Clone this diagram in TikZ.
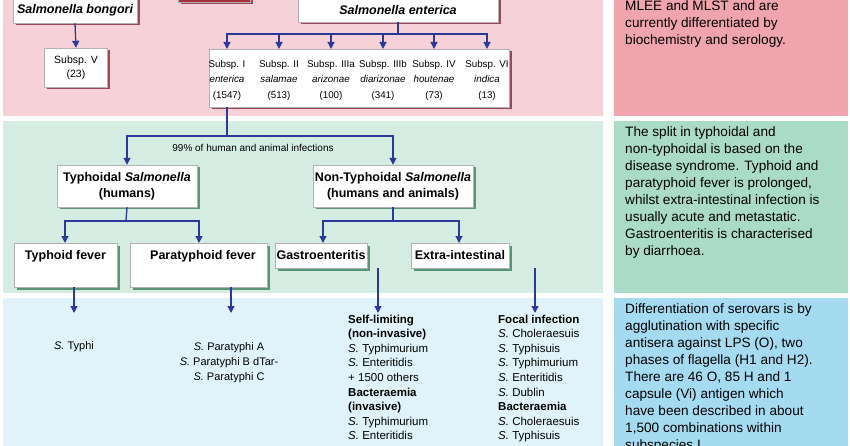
\documentclass[tikz,border=0pt]{standalone}
\usepackage{fontspec}
\setmainfont{Liberation Sans}
\usetikzlibrary{arrows.meta,shadows}
\definecolor{arr}{HTML}{2B3A98}
\definecolor{pinkL}{HTML}{F6D2D8}
\definecolor{pinkR}{HTML}{F0A4AE}
\definecolor{greenL}{HTML}{D5ECE2}
\definecolor{greenR}{HTML}{AADBC6}
\definecolor{blueL}{HTML}{E1F3FA}
\definecolor{blueR}{HTML}{A5DBF1}
\definecolor{shR}{HTML}{8E3A48}
\definecolor{shG}{HTML}{4E8A6A}
\tikzset{
  box/.style={draw=gray!60, fill=white, inner sep=0pt, align=center},
  shr/.style={drop shadow={shadow xshift=2.5pt, shadow yshift=-2.5pt, fill=shR, opacity=.9}},
  shg/.style={drop shadow={shadow xshift=2.5pt, shadow yshift=-2.5pt, fill=shG, opacity=.9}},
  conn/.style={draw=arr, line width=1.3pt},
  arrow/.style={conn, -{Triangle[length=7pt,width=7pt]}},
  small/.style={font=\fontsize{9.8}{15.5}\selectfont},
  side/.style={anchor=north west, align=left, inner sep=0pt,
               font=\fontsize{13.6}{17}\selectfont},
  lst/.style={anchor=north west, align=left, inner sep=0pt, font=\fontsize{11.5}{14.6}\selectfont},
  hd/.style={font=\fontsize{12.5}{16}\selectfont\bfseries}
}
\begin{document}
\begin{tikzpicture}[x=1pt,y=-1pt]
\useasboundingbox (0,0) rectangle (850,446);
\clip (0,0) rectangle (850,446);
% bands
\fill[pinkL] (3,-5) rectangle (603,116);
\fill[pinkR] (614,-5) rectangle (848,116);
\fill[greenL] (3,121) rectangle (603,293);
\fill[greenR] (614,121) rectangle (848,293);
\fill[blueL] (3,298) rectangle (603,450);
\fill[blueR] (614,298) rectangle (848,450);
% top partial box
\node[box, fill=shR!80!red, shr, minimum width=72pt, minimum height=20pt] (top) at (214,-8) {};
% top level
\node[box, shr, minimum width=124pt, minimum height=38pt] (bon) at (75,4) {};
\node[font=\fontsize{12.5}{14}\selectfont\bfseries\itshape] (bont) at (75,10) {Salmonella bongori};
\node[box, shr, minimum width=200pt, minimum height=38pt] (ent) at (398,3) {};
\node[font=\fontsize{12.5}{14}\selectfont\bfseries\itshape] (entt) at (398,10) {Salmonella enterica};
\node[box, shr, minimum width=63pt, minimum height=39pt, font=\fontsize{10.5}{14}\selectfont] (sv) at (76,67.5) {Subsp. V\\(23)};
\node[box, shr, minimum width=300pt, minimum height=58pt] (sb) at (359,78) {};
\foreach \n/\x/\a/\b/\c in {s1/227/Subsp. I/enterica/1547, s2/279/Subsp. II/salamae/513,
  s3/331/Subsp. IIIa/arizonae/100, s4/383/Subsp. IIIb/diarizonae/341,
  s5/434/Subsp. IV/houtenae/73, s6/487/Subsp. VI/indica/13}
  \node[small, align=center, inner sep=0pt] (\n) at (\x,80) {\a\\\textit{\b}\\(\c)};
\draw[arrow] (bon.south) -- (sv.north);
\coordinate (ej) at (398,34);
\draw[conn] (ent.south) -- (ej);
\foreach \x in {227,279,331,383,434,487}
  \draw[arrow] (ej) -| (\x,49);
\draw[conn] (ej) -- (227,34) -- (487,34);
% green level
\node[box, shg, minimum width=140pt, minimum height=42pt, hd] (typ) at (127,186) {Typhoidal \textit{Salmonella}\\(humans)};
\node[box, shg, minimum width=160pt, minimum height=42pt, hd] (non) at (393,186) {Non-Typhoidal \textit{Salmonella}\\(humans and animals)};
\coordinate (gj) at (227,136);
\draw[conn] (227,107) -- (gj);
\draw[arrow] (gj) -| (typ.north);
\draw[arrow] (gj) -| (non.north);
\node[font=\fontsize{10}{12}\selectfont] (pct) at (253,148) {99\% of human and animal infections};
\node[box, shg, minimum width=103pt, minimum height=44pt] (tf) at (65.5,265) {};
\node[hd] (tft) at (65.5,256) {Typhoid fever};
\node[box, shg, minimum width=137pt, minimum height=44pt] (pf) at (198.5,265) {};
\node[hd] (pft) at (203,256) {Paratyphoid fever};
\node[box, shg, minimum width=92pt, minimum height=25pt, hd] (ga) at (321,255.5) {Gastroenteritis};
\node[box, shg, minimum width=98pt, minimum height=25pt, hd] (ex) at (460,255.5) {Extra-intestinal};
\coordinate (tj) at (126,221);
\draw[conn] (typ.south) -- (tj);
\draw[arrow] (tj) -| (65,243);
\draw[arrow] (tj) -| (199,243);
\coordinate (nj) at (393,221);
\draw[conn] (non.south) -- (nj);
\draw[arrow] (nj) -| (323,243);
\draw[arrow] (nj) -| (459,243);
% blue level
\coordinate (a1) at (74,313); \coordinate (a2) at (231,313);
\coordinate (a3) at (378,313); \coordinate (a4) at (535,313);
\draw[arrow] (tf.south -| a1) -- (a1);
\draw[arrow] (pf.south -| a2) -- (a2);
\draw[arrow] (ga.south -| a3) -- (a3);
\draw[arrow] (ex.south -| a4) -- (a4);
\node[font=\fontsize{11}{15}\selectfont] (ty) at (74,347) {\textit{S.} Typhi};
\node[font=\fontsize{11}{15}\selectfont, align=center, anchor=north] (pa) at (229,339) {\textit{S.} Paratyphi A\\\textit{S.} Paratyphi B dTar-\\\textit{S.} Paratyphi C};
\node[lst] (gl) at (348,314.5) {\textbf{Self-limiting}\\\textbf{(non-invasive)}\\\textit{S.} Typhimurium\\\textit{S.} Enteritidis\\+ 1500 others\\\textbf{Bacteraemia}\\\textbf{(invasive)}\\\textit{S.} Typhimurium\\\textit{S.} Enteritidis};
\node[lst] (el) at (498,314.5) {\textbf{Focal infection}\\\textit{S.} Choleraesuis\\\textit{S.} Typhisuis\\\textit{S.} Typhimurium\\\textit{S.} Enteritidis\\\textit{S.} Dublin\\\textbf{Bacteraemia}\\\textit{S.} Choleraesuis\\\textit{S.} Typhisuis};
% side texts
\node[side] (t1) at (625,0) {MLEE and MLST and are\\currently differentiated by\\biochemistry and serology.};
\node[side] (t2) at (625,126) {The split in typhoidal and\\non-typhoidal is based on the\\disease syndrome. Typhoid and\\paratyphoid fever is prolonged,\\whilst extra-intestinal infection is\\usually acute and metastatic.\\Gastroenteritis is characterised\\by diarrhoea.};
\node[side] (t3) at (625,303) {Differentiation of serovars is by\\agglutination with specific\\antisera against LPS (O), two\\phases of flagella (H1 and H2).\\There are 46 O, 85 H and 1\\capsule (Vi) antigen which\\have been described in about\\1,500 combinations within\\subspecies I.};
\end{tikzpicture}
\end{document}
